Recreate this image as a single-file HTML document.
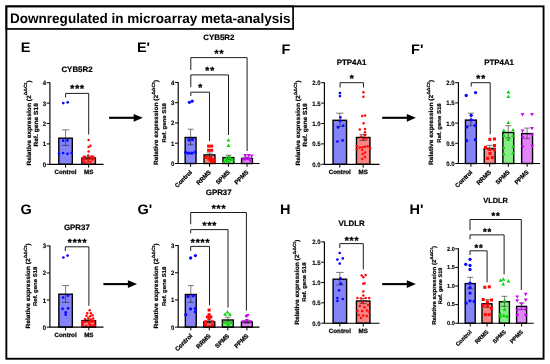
<!DOCTYPE html>
<html><head><meta charset="utf-8"><title>Downregulated in microarray meta-analysis</title>
<style>html,body{margin:0;padding:0;background:#fff}svg{display:block}</style></head>
<body>
<svg width="550" height="364" viewBox="0 0 550 364" font-family="'Liberation Sans', sans-serif" font-weight="bold" text-rendering="geometricPrecision">
<rect width="550" height="364" fill="#fff"/>
<rect x="6.35" y="6.35" width="537.2" height="352.4" fill="none" stroke="#000" stroke-width="1.9"/>
<rect x="6.35" y="6.35" width="286.75" height="22.6" fill="none" stroke="#000" stroke-width="1.7"/>
<text transform="translate(10.0,23.3) scale(0.9885,1)" font-size="13.7" fill="#000">Downregulated in microarray meta-analysis</text>
<rect x="58.80" y="138.20" width="13.50" height="26.10" fill="#8484f8" stroke="#000" stroke-width="1.4"/>
<path d="M65.55 129.80V145.40M61.85 129.80h7.40M61.85 145.40h7.40" stroke="#222" stroke-width="0.6" fill="none"/>
<circle cx="63.30" cy="103.10" r="1.35" fill="#0808ff"/>
<circle cx="67.70" cy="102.30" r="1.35" fill="#0808ff"/>
<circle cx="63.10" cy="140.70" r="1.35" fill="#0808ff"/>
<circle cx="67.50" cy="140.40" r="1.35" fill="#0808ff"/>
<circle cx="59.00" cy="153.80" r="1.35" fill="#0808ff"/>
<circle cx="63.10" cy="153.00" r="1.35" fill="#0808ff"/>
<circle cx="67.50" cy="153.80" r="1.35" fill="#0808ff"/>
<circle cx="71.70" cy="153.00" r="1.35" fill="#0808ff"/>
<rect x="81.90" y="158.00" width="13.50" height="6.30" fill="#f88484" stroke="#000" stroke-width="1.4"/>
<path d="M88.65 156.20V159.40M84.95 156.20h7.40M84.95 159.40h7.40" stroke="#222" stroke-width="0.6" fill="none"/>
<circle cx="88.60" cy="140.10" r="1.25" fill="#ff0808"/>
<circle cx="90.50" cy="145.70" r="1.25" fill="#ff0808"/>
<circle cx="88.60" cy="146.90" r="1.25" fill="#ff0808"/>
<circle cx="88.60" cy="151.40" r="1.25" fill="#ff0808"/>
<circle cx="88.20" cy="155.60" r="1.25" fill="#ff0808"/>
<circle cx="84.80" cy="157.00" r="1.25" fill="#ff0808"/>
<circle cx="91.60" cy="157.40" r="1.25" fill="#ff0808"/>
<circle cx="84.41" cy="162.26" r="1.2" fill="#ff0808"/>
<circle cx="91.71" cy="158.23" r="1.2" fill="#ff0808"/>
<circle cx="88.60" cy="159.56" r="1.2" fill="#ff0808"/>
<circle cx="90.41" cy="161.86" r="1.2" fill="#ff0808"/>
<circle cx="83.94" cy="156.69" r="1.2" fill="#ff0808"/>
<circle cx="92.54" cy="159.44" r="1.2" fill="#ff0808"/>
<circle cx="91.69" cy="156.51" r="1.2" fill="#ff0808"/>
<circle cx="88.02" cy="161.41" r="1.2" fill="#ff0808"/>
<circle cx="85.50" cy="162.93" r="1.2" fill="#ff0808"/>
<circle cx="93.31" cy="156.71" r="1.2" fill="#ff0808"/>
<circle cx="83.15" cy="160.18" r="1.2" fill="#ff0808"/>
<circle cx="93.74" cy="159.09" r="1.2" fill="#ff0808"/>
<circle cx="85.36" cy="159.37" r="1.2" fill="#ff0808"/>
<circle cx="83.19" cy="158.01" r="1.2" fill="#ff0808"/>
<path d="M49.90 82.20V164.30H103.50" stroke="#000" stroke-width="1.15" fill="none"/>
<path d="M46.70 164.30h3.2" stroke="#000" stroke-width="1"/>
<text transform="translate(46.00,166.80) scale(1,1.05)" font-size="6.0" text-anchor="end" fill="#000" stroke="#000" stroke-width="0.12">0</text>
<path d="M46.70 143.90h3.2" stroke="#000" stroke-width="1"/>
<text transform="translate(46.00,146.40) scale(1,1.05)" font-size="6.0" text-anchor="end" fill="#000" stroke="#000" stroke-width="0.12">1</text>
<path d="M46.70 123.50h3.2" stroke="#000" stroke-width="1"/>
<text transform="translate(46.00,126.00) scale(1,1.05)" font-size="6.0" text-anchor="end" fill="#000" stroke="#000" stroke-width="0.12">2</text>
<path d="M46.70 103.10h3.2" stroke="#000" stroke-width="1"/>
<text transform="translate(46.00,105.60) scale(1,1.05)" font-size="6.0" text-anchor="end" fill="#000" stroke="#000" stroke-width="0.12">3</text>
<path d="M46.70 82.70h3.2" stroke="#000" stroke-width="1"/>
<text transform="translate(46.00,85.20) scale(1,1.05)" font-size="6.0" text-anchor="end" fill="#000" stroke="#000" stroke-width="0.12">4</text>
<path d="M65.55 164.30v3.3" stroke="#000" stroke-width="1"/>
<text transform="translate(65.55,173.90) scale(1,1.0)" font-size="6.2" text-anchor="middle" fill="#000" stroke="#000" stroke-width="0.25">Control</text>
<path d="M88.65 164.30v3.3" stroke="#000" stroke-width="1"/>
<text transform="translate(88.65,173.90) scale(1,1.0)" font-size="6.2" text-anchor="middle" fill="#000" stroke="#000" stroke-width="0.25">MS</text>
<text transform="translate(30.60,123.05) rotate(-90) scale(1.092,1)" font-size="6.10" text-anchor="middle" fill="#000" stroke="#000" stroke-width="0.2">Relative expression (2<tspan font-size="4.60" dy="-3.20">ΔΔCt</tspan><tspan dy="3.20">)</tspan></text>
<text transform="translate(38.10,124.90) rotate(-90) scale(1.092,1)" font-size="6.07" text-anchor="middle" fill="#000" stroke="#000" stroke-width="0.2">Ref. gene S18</text>
<text x="77.00" y="72.25" font-size="7.9" text-anchor="middle" fill="#000" stroke="#000" stroke-width="0.2">CYB5R2</text>
<path d="M65.60 97.50V93.40H88.70V134.50" stroke="#111" stroke-width="0.95" fill="none"/>
<text x="77.65" y="92.20" font-size="10.2" text-anchor="middle" fill="#000" stroke="#000" stroke-width="0.35" letter-spacing="0.95">***</text>
<text transform="translate(20.70,52.00) scale(1.06,1)" font-size="13.7" fill="#000">E</text>
<rect x="185.15" y="137.50" width="10.90" height="26.00" fill="#8484f8" stroke="#000" stroke-width="1.4"/>
<path d="M190.60 129.20V144.80M187.60 129.20h6.00M187.60 144.80h6.00" stroke="#222" stroke-width="0.6" fill="none"/>
<circle cx="189.40" cy="102.30" r="1.65" fill="#0808ff"/>
<circle cx="192.20" cy="101.20" r="1.65" fill="#0808ff"/>
<circle cx="189.00" cy="139.90" r="1.65" fill="#0808ff"/>
<circle cx="192.50" cy="139.60" r="1.65" fill="#0808ff"/>
<circle cx="185.60" cy="152.40" r="1.65" fill="#0808ff"/>
<circle cx="188.40" cy="153.20" r="1.65" fill="#0808ff"/>
<circle cx="191.70" cy="153.20" r="1.65" fill="#0808ff"/>
<circle cx="195.10" cy="152.20" r="1.65" fill="#0808ff"/>
<rect x="204.05" y="154.90" width="10.90" height="8.60" fill="#f88484" stroke="#000" stroke-width="1.4"/>
<path d="M209.50 153.00V156.50M206.50 153.00h6.00M206.50 156.50h6.00" stroke="#222" stroke-width="0.6" fill="none"/>
<rect x="207.08" y="144.58" width="3.04" height="3.04" fill="#ff0808"/>
<rect x="210.08" y="144.58" width="3.04" height="3.04" fill="#ff0808"/>
<rect x="207.08" y="148.78" width="3.04" height="3.04" fill="#ff0808"/>
<rect x="210.08" y="148.78" width="3.04" height="3.04" fill="#ff0808"/>
<rect x="211.81" y="160.22" width="3.04" height="3.04" fill="#ff0808"/>
<rect x="204.26" y="155.91" width="3.04" height="3.04" fill="#ff0808"/>
<rect x="210.80" y="159.16" width="3.04" height="3.04" fill="#ff0808"/>
<rect x="209.41" y="157.02" width="3.04" height="3.04" fill="#ff0808"/>
<rect x="208.87" y="158.52" width="3.04" height="3.04" fill="#ff0808"/>
<rect x="208.66" y="156.27" width="3.04" height="3.04" fill="#ff0808"/>
<rect x="207.40" y="157.45" width="3.04" height="3.04" fill="#ff0808"/>
<rect x="209.86" y="160.46" width="3.04" height="3.04" fill="#ff0808"/>
<rect x="211.76" y="158.20" width="3.04" height="3.04" fill="#ff0808"/>
<rect x="222.95" y="157.60" width="10.90" height="5.90" fill="#84ee84" stroke="#000" stroke-width="1.4"/>
<path d="M228.40 155.20V159.60M225.40 155.20h6.00M225.40 159.60h6.00" stroke="#222" stroke-width="0.6" fill="none"/>
<path d="M228.40 138.20L230.30 141.59L226.50 141.59Z" fill="#08d008"/>
<path d="M228.40 143.50L230.30 146.89L226.50 146.89Z" fill="#08d008"/>
<path d="M226.09 158.14L227.99 161.52L224.20 161.52Z" fill="#08d008"/>
<path d="M227.26 158.53L229.15 161.91L225.36 161.91Z" fill="#08d008"/>
<path d="M229.51 155.03L231.40 158.41L227.61 158.41Z" fill="#08d008"/>
<path d="M224.12 160.05L226.01 163.43L222.22 163.43Z" fill="#08d008"/>
<path d="M226.28 156.13L228.18 159.51L224.38 159.51Z" fill="#08d008"/>
<path d="M232.76 157.66L234.66 161.04L230.86 161.04Z" fill="#08d008"/>
<path d="M231.36 157.70L233.26 161.08L229.46 161.08Z" fill="#08d008"/>
<path d="M229.62 155.58L231.52 158.96L227.73 158.96Z" fill="#08d008"/>
<path d="M229.59 160.24L231.48 163.63L227.69 163.63Z" fill="#08d008"/>
<rect x="241.55" y="158.40" width="10.90" height="5.10" fill="#e084f8" stroke="#000" stroke-width="1.4"/>
<path d="M247.00 157.00V159.60M244.00 157.00h6.00M244.00 159.60h6.00" stroke="#222" stroke-width="0.6" fill="none"/>
<path d="M245.20 157.40L247.10 154.01L243.30 154.01Z" fill="#c808f0"/>
<path d="M248.60 157.40L250.50 154.01L246.70 154.01Z" fill="#c808f0"/>
<path d="M251.60 157.90L253.50 154.51L249.70 154.51Z" fill="#c808f0"/>
<path d="M244.78 160.71L246.68 157.32L242.89 157.32Z" fill="#c808f0"/>
<path d="M246.13 160.86L248.02 157.48L244.23 157.48Z" fill="#c808f0"/>
<path d="M243.36 161.60L245.26 158.22L241.46 158.22Z" fill="#c808f0"/>
<path d="M250.51 162.80L252.41 159.42L248.61 159.42Z" fill="#c808f0"/>
<path d="M249.23 161.06L251.12 157.68L247.33 157.68Z" fill="#c808f0"/>
<path d="M178.20 81.90V163.50H259.50" stroke="#000" stroke-width="1.15" fill="none"/>
<path d="M175.00 163.50h3.2" stroke="#000" stroke-width="1"/>
<text transform="translate(174.30,166.00) scale(1,1.05)" font-size="6.0" text-anchor="end" fill="#000" stroke="#000" stroke-width="0.12">0</text>
<path d="M175.00 143.22h3.2" stroke="#000" stroke-width="1"/>
<text transform="translate(174.30,145.72) scale(1,1.05)" font-size="6.0" text-anchor="end" fill="#000" stroke="#000" stroke-width="0.12">1</text>
<path d="M175.00 122.95h3.2" stroke="#000" stroke-width="1"/>
<text transform="translate(174.30,125.45) scale(1,1.05)" font-size="6.0" text-anchor="end" fill="#000" stroke="#000" stroke-width="0.12">2</text>
<path d="M175.00 102.68h3.2" stroke="#000" stroke-width="1"/>
<text transform="translate(174.30,105.18) scale(1,1.05)" font-size="6.0" text-anchor="end" fill="#000" stroke="#000" stroke-width="0.12">3</text>
<path d="M175.00 82.40h3.2" stroke="#000" stroke-width="1"/>
<text transform="translate(174.30,84.90) scale(1,1.05)" font-size="6.0" text-anchor="end" fill="#000" stroke="#000" stroke-width="0.12">4</text>
<path d="M190.60 163.50v3.3" stroke="#000" stroke-width="1"/>
<text transform="translate(192.50,172.70) rotate(-45)" font-size="6.05" text-anchor="end" fill="#000" stroke="#000" stroke-width="0.25">Control</text>
<path d="M209.50 163.50v3.3" stroke="#000" stroke-width="1"/>
<text transform="translate(211.40,172.70) rotate(-45)" font-size="6.05" text-anchor="end" fill="#000" stroke="#000" stroke-width="0.25">RRMS</text>
<path d="M228.40 163.50v3.3" stroke="#000" stroke-width="1"/>
<text transform="translate(230.30,172.70) rotate(-45)" font-size="6.05" text-anchor="end" fill="#000" stroke="#000" stroke-width="0.25">SPMS</text>
<path d="M247.00 163.50v3.3" stroke="#000" stroke-width="1"/>
<text transform="translate(248.90,172.70) rotate(-45)" font-size="6.05" text-anchor="end" fill="#000" stroke="#000" stroke-width="0.25">PPMS</text>
<text transform="translate(158.40,122.55) rotate(-90) scale(1.092,1)" font-size="6.10" text-anchor="middle" fill="#000" stroke="#000" stroke-width="0.2">Relative expression (2<tspan font-size="4.60" dy="-3.20">ΔΔCt</tspan><tspan dy="3.20">)</tspan></text>
<text transform="translate(166.15,122.80) rotate(-90) scale(1.092,1)" font-size="5.50" text-anchor="middle" fill="#000" stroke="#000" stroke-width="0.2">Ref. gene S18</text>
<text x="218.85" y="40.15" font-size="7.9" text-anchor="middle" fill="#000" stroke="#000" stroke-width="0.2">CYB5R2</text>
<path d="M190.80 96.00V92.20H209.50V141.00" stroke="#111" stroke-width="0.95" fill="none"/>
<text x="200.65" y="91.40" font-size="10.2" text-anchor="middle" fill="#000" stroke="#000" stroke-width="0.35" letter-spacing="0.95">*</text>
<path d="M190.80 87.20V74.90H228.50V135.00" stroke="#111" stroke-width="0.95" fill="none"/>
<text x="210.15" y="74.10" font-size="10.2" text-anchor="middle" fill="#000" stroke="#000" stroke-width="0.35" letter-spacing="0.95">**</text>
<path d="M190.80 70.00V57.60H247.10V151.00" stroke="#111" stroke-width="0.95" fill="none"/>
<text x="219.45" y="56.80" font-size="10.2" text-anchor="middle" fill="#000" stroke="#000" stroke-width="0.35" letter-spacing="0.95">**</text>
<text transform="translate(136.90,51.90) scale(1.06,1)" font-size="13.7" fill="#000">E'</text>
<rect x="333.05" y="120.30" width="13.50" height="44.00" fill="#8484f8" stroke="#000" stroke-width="1.4"/>
<path d="M339.80 113.20V126.40M336.10 113.20h7.40M336.10 126.40h7.40" stroke="#222" stroke-width="0.6" fill="none"/>
<circle cx="339.90" cy="93.00" r="1.35" fill="#0808ff"/>
<circle cx="339.90" cy="96.10" r="1.35" fill="#0808ff"/>
<circle cx="340.40" cy="117.40" r="1.35" fill="#0808ff"/>
<circle cx="343.30" cy="125.70" r="1.35" fill="#0808ff"/>
<circle cx="338.10" cy="127.40" r="1.35" fill="#0808ff"/>
<circle cx="337.40" cy="141.50" r="1.35" fill="#0808ff"/>
<circle cx="342.60" cy="140.40" r="1.35" fill="#0808ff"/>
<circle cx="340.40" cy="121.00" r="1.35" fill="#0808ff"/>
<rect x="356.45" y="137.50" width="13.50" height="26.80" fill="#f88484" stroke="#000" stroke-width="1.4"/>
<path d="M363.20 134.40V140.40M359.50 134.40h7.40M359.50 140.40h7.40" stroke="#222" stroke-width="0.6" fill="none"/>
<circle cx="363.40" cy="92.30" r="1.25" fill="#ff0808"/>
<circle cx="363.40" cy="96.80" r="1.25" fill="#ff0808"/>
<circle cx="362.20" cy="115.90" r="1.25" fill="#ff0808"/>
<circle cx="365.00" cy="115.40" r="1.25" fill="#ff0808"/>
<circle cx="363.60" cy="123.20" r="1.25" fill="#ff0808"/>
<circle cx="359.80" cy="129.40" r="1.25" fill="#ff0808"/>
<circle cx="365.00" cy="128.90" r="1.25" fill="#ff0808"/>
<circle cx="365.00" cy="132.20" r="1.25" fill="#ff0808"/>
<circle cx="365.00" cy="135.20" r="1.25" fill="#ff0808"/>
<circle cx="361.00" cy="136.50" r="1.25" fill="#ff0808"/>
<circle cx="363.50" cy="139.00" r="1.25" fill="#ff0808"/>
<circle cx="366.50" cy="138.60" r="1.25" fill="#ff0808"/>
<circle cx="356.80" cy="145.90" r="1.25" fill="#ff0808"/>
<circle cx="356.80" cy="149.20" r="1.25" fill="#ff0808"/>
<circle cx="359.80" cy="147.50" r="1.25" fill="#ff0808"/>
<circle cx="362.60" cy="147.20" r="1.25" fill="#ff0808"/>
<circle cx="365.00" cy="146.70" r="1.25" fill="#ff0808"/>
<circle cx="367.70" cy="146.20" r="1.25" fill="#ff0808"/>
<circle cx="370.20" cy="148.40" r="1.25" fill="#ff0808"/>
<circle cx="362.20" cy="150.00" r="1.25" fill="#ff0808"/>
<circle cx="365.00" cy="152.50" r="1.25" fill="#ff0808"/>
<circle cx="362.60" cy="154.10" r="1.25" fill="#ff0808"/>
<circle cx="365.00" cy="156.90" r="1.25" fill="#ff0808"/>
<circle cx="362.20" cy="159.10" r="1.25" fill="#ff0808"/>
<path d="M324.40 82.20V164.30H379.50" stroke="#000" stroke-width="1.15" fill="none"/>
<path d="M321.20 164.30h3.2" stroke="#000" stroke-width="1"/>
<text transform="translate(320.50,166.80) scale(1,1.05)" font-size="6.0" text-anchor="end" fill="#000" stroke="#000" stroke-width="0.12">0.0</text>
<path d="M321.20 143.90h3.2" stroke="#000" stroke-width="1"/>
<text transform="translate(320.50,146.40) scale(1,1.05)" font-size="6.0" text-anchor="end" fill="#000" stroke="#000" stroke-width="0.12">0.5</text>
<path d="M321.20 123.50h3.2" stroke="#000" stroke-width="1"/>
<text transform="translate(320.50,126.00) scale(1,1.05)" font-size="6.0" text-anchor="end" fill="#000" stroke="#000" stroke-width="0.12">1.0</text>
<path d="M321.20 103.10h3.2" stroke="#000" stroke-width="1"/>
<text transform="translate(320.50,105.60) scale(1,1.05)" font-size="6.0" text-anchor="end" fill="#000" stroke="#000" stroke-width="0.12">1.5</text>
<path d="M321.20 82.70h3.2" stroke="#000" stroke-width="1"/>
<text transform="translate(320.50,85.20) scale(1,1.05)" font-size="6.0" text-anchor="end" fill="#000" stroke="#000" stroke-width="0.12">2.0</text>
<path d="M339.80 164.30v3.3" stroke="#000" stroke-width="1"/>
<text transform="translate(339.80,173.90) scale(1,1.0)" font-size="6.2" text-anchor="middle" fill="#000" stroke="#000" stroke-width="0.25">Control</text>
<path d="M363.20 164.30v3.3" stroke="#000" stroke-width="1"/>
<text transform="translate(363.20,173.90) scale(1,1.0)" font-size="6.2" text-anchor="middle" fill="#000" stroke="#000" stroke-width="0.25">MS</text>
<text transform="translate(299.75,123.05) rotate(-90) scale(1.092,1)" font-size="6.10" text-anchor="middle" fill="#000" stroke="#000" stroke-width="0.2">Relative expression (2<tspan font-size="4.60" dy="-3.20">ΔΔCt</tspan><tspan dy="3.20">)</tspan></text>
<text transform="translate(307.25,124.95) rotate(-90) scale(1.092,1)" font-size="6.07" text-anchor="middle" fill="#000" stroke="#000" stroke-width="0.2">Ref. gene S18</text>
<text x="351.60" y="65.45" font-size="7.9" text-anchor="middle" fill="#000" stroke="#000" stroke-width="0.2">PTP4A1</text>
<path d="M340.10 87.50V82.70H363.50V87.50" stroke="#111" stroke-width="0.95" fill="none"/>
<text x="352.30" y="82.30" font-size="10.2" text-anchor="middle" fill="#000" stroke="#000" stroke-width="0.35" letter-spacing="0.95">*</text>
<text transform="translate(281.40,53.70) scale(1.06,1)" font-size="13.7" fill="#000">F</text>
<rect x="465.45" y="120.10" width="10.90" height="43.40" fill="#8484f8" stroke="#000" stroke-width="1.4"/>
<path d="M470.90 113.20V125.70M467.90 113.20h6.00M467.90 125.70h6.00" stroke="#222" stroke-width="0.6" fill="none"/>
<circle cx="466.20" cy="95.50" r="1.65" fill="#0808ff"/>
<circle cx="475.60" cy="92.60" r="1.65" fill="#0808ff"/>
<circle cx="471.20" cy="115.30" r="1.65" fill="#0808ff"/>
<circle cx="471.20" cy="119.80" r="1.65" fill="#0808ff"/>
<circle cx="466.80" cy="126.90" r="1.65" fill="#0808ff"/>
<circle cx="475.40" cy="125.50" r="1.65" fill="#0808ff"/>
<circle cx="466.60" cy="140.70" r="1.65" fill="#0808ff"/>
<circle cx="475.40" cy="139.70" r="1.65" fill="#0808ff"/>
<rect x="484.25" y="148.40" width="10.90" height="15.10" fill="#f88484" stroke="#000" stroke-width="1.4"/>
<path d="M489.70 145.30V149.50M486.70 145.30h6.00M486.70 149.50h6.00" stroke="#222" stroke-width="0.6" fill="none"/>
<rect x="488.28" y="137.88" width="3.04" height="3.04" fill="#ff0808"/>
<rect x="492.98" y="137.48" width="3.04" height="3.04" fill="#ff0808"/>
<rect x="483.98" y="145.78" width="3.04" height="3.04" fill="#ff0808"/>
<rect x="492.98" y="143.98" width="3.04" height="3.04" fill="#ff0808"/>
<rect x="488.28" y="147.98" width="3.04" height="3.04" fill="#ff0808"/>
<rect x="492.98" y="148.28" width="3.04" height="3.04" fill="#ff0808"/>
<rect x="486.08" y="156.78" width="3.04" height="3.04" fill="#ff0808"/>
<rect x="490.78" y="155.98" width="3.04" height="3.04" fill="#ff0808"/>
<rect x="488.48" y="151.98" width="3.04" height="3.04" fill="#ff0808"/>
<rect x="502.85" y="132.50" width="10.90" height="31.00" fill="#84ee84" stroke="#000" stroke-width="1.4"/>
<path d="M508.30 125.70V138.00M505.30 125.70h6.00M505.30 138.00h6.00" stroke="#222" stroke-width="0.6" fill="none"/>
<path d="M508.40 90.00L510.30 93.39L506.50 93.39Z" fill="#08d008"/>
<path d="M508.40 94.70L510.30 98.08L506.50 98.08Z" fill="#08d008"/>
<path d="M508.40 120.70L510.30 124.08L506.50 124.08Z" fill="#08d008"/>
<path d="M503.80 128.60L505.70 131.99L501.90 131.99Z" fill="#08d008"/>
<path d="M513.10 127.90L515.00 131.29L511.20 131.29Z" fill="#08d008"/>
<path d="M503.90 133.70L505.80 137.09L502.00 137.09Z" fill="#08d008"/>
<path d="M513.00 133.70L514.90 137.09L511.10 137.09Z" fill="#08d008"/>
<path d="M508.40 137.50L510.30 140.89L506.50 140.89Z" fill="#08d008"/>
<path d="M503.70 145.40L505.60 148.79L501.80 148.79Z" fill="#08d008"/>
<path d="M513.20 144.70L515.10 148.09L511.30 148.09Z" fill="#08d008"/>
<path d="M503.70 151.90L505.60 155.29L501.80 155.29Z" fill="#08d008"/>
<path d="M513.20 151.00L515.10 154.39L511.30 154.39Z" fill="#08d008"/>
<rect x="521.65" y="133.60" width="10.90" height="29.90" fill="#e084f8" stroke="#000" stroke-width="1.4"/>
<path d="M527.10 128.10V138.70M524.10 128.10h6.00M524.10 138.70h6.00" stroke="#222" stroke-width="0.6" fill="none"/>
<path d="M522.60 116.50L524.50 113.11L520.70 113.11Z" fill="#c808f0"/>
<path d="M532.00 116.50L533.90 113.11L530.10 113.11Z" fill="#c808f0"/>
<path d="M522.60 132.90L524.50 129.51L520.70 129.51Z" fill="#c808f0"/>
<path d="M532.00 130.30L533.90 126.92L530.10 126.92Z" fill="#c808f0"/>
<path d="M522.80 139.70L524.70 136.31L520.90 136.31Z" fill="#c808f0"/>
<path d="M532.00 136.90L533.90 133.51L530.10 133.51Z" fill="#c808f0"/>
<path d="M522.70 148.80L524.60 145.41L520.80 145.41Z" fill="#c808f0"/>
<path d="M532.20 148.20L534.10 144.81L530.30 144.81Z" fill="#c808f0"/>
<path d="M458.40 82.20V163.50H540.00" stroke="#000" stroke-width="1.15" fill="none"/>
<path d="M455.20 163.50h3.2" stroke="#000" stroke-width="1"/>
<text transform="translate(454.50,166.00) scale(1,1.05)" font-size="6.0" text-anchor="end" fill="#000" stroke="#000" stroke-width="0.12">0.0</text>
<path d="M455.20 143.30h3.2" stroke="#000" stroke-width="1"/>
<text transform="translate(454.50,145.80) scale(1,1.05)" font-size="6.0" text-anchor="end" fill="#000" stroke="#000" stroke-width="0.12">0.5</text>
<path d="M455.20 123.10h3.2" stroke="#000" stroke-width="1"/>
<text transform="translate(454.50,125.60) scale(1,1.05)" font-size="6.0" text-anchor="end" fill="#000" stroke="#000" stroke-width="0.12">1.0</text>
<path d="M455.20 102.90h3.2" stroke="#000" stroke-width="1"/>
<text transform="translate(454.50,105.40) scale(1,1.05)" font-size="6.0" text-anchor="end" fill="#000" stroke="#000" stroke-width="0.12">1.5</text>
<path d="M455.20 82.70h3.2" stroke="#000" stroke-width="1"/>
<text transform="translate(454.50,85.20) scale(1,1.05)" font-size="6.0" text-anchor="end" fill="#000" stroke="#000" stroke-width="0.12">2.0</text>
<path d="M470.90 163.50v3.3" stroke="#000" stroke-width="1"/>
<text transform="translate(472.80,172.70) rotate(-45)" font-size="6.05" text-anchor="end" fill="#000" stroke="#000" stroke-width="0.25">Control</text>
<path d="M489.70 163.50v3.3" stroke="#000" stroke-width="1"/>
<text transform="translate(491.60,172.70) rotate(-45)" font-size="6.05" text-anchor="end" fill="#000" stroke="#000" stroke-width="0.25">RRMS</text>
<path d="M508.30 163.50v3.3" stroke="#000" stroke-width="1"/>
<text transform="translate(510.20,172.70) rotate(-45)" font-size="6.05" text-anchor="end" fill="#000" stroke="#000" stroke-width="0.25">SPMS</text>
<path d="M527.10 163.50v3.3" stroke="#000" stroke-width="1"/>
<text transform="translate(529.00,172.70) rotate(-45)" font-size="6.05" text-anchor="end" fill="#000" stroke="#000" stroke-width="0.25">PPMS</text>
<text transform="translate(433.30,122.55) rotate(-90) scale(1.092,1)" font-size="6.10" text-anchor="middle" fill="#000" stroke="#000" stroke-width="0.2">Relative expression (2<tspan font-size="4.60" dy="-3.20">ΔΔCt</tspan><tspan dy="3.20">)</tspan></text>
<text transform="translate(440.85,123.00) rotate(-90) scale(1.092,1)" font-size="5.50" text-anchor="middle" fill="#000" stroke="#000" stroke-width="0.2">Ref. gene S18</text>
<text x="499.10" y="65.45" font-size="7.9" text-anchor="middle" fill="#000" stroke="#000" stroke-width="0.2">PTP4A1</text>
<path d="M471.20 86.50V82.70H490.20V134.20" stroke="#111" stroke-width="0.95" fill="none"/>
<text x="481.20" y="82.20" font-size="10.2" text-anchor="middle" fill="#000" stroke="#000" stroke-width="0.35" letter-spacing="0.95">**</text>
<text transform="translate(411.10,53.70) scale(1.06,1)" font-size="13.7" fill="#000">F'</text>
<rect x="58.85" y="294.20" width="13.50" height="32.90" fill="#8484f8" stroke="#000" stroke-width="1.4"/>
<path d="M65.60 285.60V302.40M61.90 285.60h7.40M61.90 302.40h7.40" stroke="#222" stroke-width="0.6" fill="none"/>
<circle cx="63.40" cy="257.50" r="1.35" fill="#0808ff"/>
<circle cx="67.60" cy="255.60" r="1.35" fill="#0808ff"/>
<circle cx="63.10" cy="297.50" r="1.35" fill="#0808ff"/>
<circle cx="68.00" cy="295.70" r="1.35" fill="#0808ff"/>
<circle cx="62.60" cy="308.80" r="1.35" fill="#0808ff"/>
<circle cx="68.10" cy="308.30" r="1.35" fill="#0808ff"/>
<circle cx="65.70" cy="312.30" r="1.35" fill="#0808ff"/>
<circle cx="65.70" cy="314.70" r="1.35" fill="#0808ff"/>
<rect x="82.05" y="320.60" width="13.50" height="6.50" fill="#f88484" stroke="#000" stroke-width="1.4"/>
<path d="M88.80 319.40V321.80M85.10 319.40h7.40M85.10 321.80h7.40" stroke="#222" stroke-width="0.6" fill="none"/>
<circle cx="89.70" cy="310.20" r="1.25" fill="#ff0808"/>
<circle cx="87.20" cy="313.20" r="1.25" fill="#ff0808"/>
<circle cx="90.80" cy="313.20" r="1.25" fill="#ff0808"/>
<circle cx="86.50" cy="315.70" r="1.25" fill="#ff0808"/>
<circle cx="90.20" cy="316.20" r="1.25" fill="#ff0808"/>
<circle cx="92.60" cy="315.20" r="1.25" fill="#ff0808"/>
<circle cx="88.30" cy="318.00" r="1.25" fill="#ff0808"/>
<circle cx="85.00" cy="319.00" r="1.25" fill="#ff0808"/>
<circle cx="93.20" cy="318.60" r="1.25" fill="#ff0808"/>
<circle cx="90.80" cy="319.50" r="1.25" fill="#ff0808"/>
<circle cx="90.32" cy="324.95" r="1.25" fill="#ff0808"/>
<circle cx="92.46" cy="326.15" r="1.25" fill="#ff0808"/>
<circle cx="91.77" cy="326.03" r="1.25" fill="#ff0808"/>
<circle cx="82.96" cy="323.29" r="1.25" fill="#ff0808"/>
<circle cx="94.30" cy="324.39" r="1.25" fill="#ff0808"/>
<circle cx="93.77" cy="321.18" r="1.25" fill="#ff0808"/>
<circle cx="88.42" cy="321.98" r="1.25" fill="#ff0808"/>
<circle cx="89.34" cy="323.94" r="1.25" fill="#ff0808"/>
<circle cx="82.76" cy="321.80" r="1.25" fill="#ff0808"/>
<circle cx="86.07" cy="326.00" r="1.25" fill="#ff0808"/>
<circle cx="92.09" cy="321.46" r="1.25" fill="#ff0808"/>
<circle cx="92.48" cy="321.33" r="1.25" fill="#ff0808"/>
<circle cx="90.26" cy="321.26" r="1.25" fill="#ff0808"/>
<circle cx="82.62" cy="325.73" r="1.25" fill="#ff0808"/>
<circle cx="85.20" cy="321.79" r="1.25" fill="#ff0808"/>
<circle cx="94.78" cy="325.73" r="1.25" fill="#ff0808"/>
<path d="M49.90 245.40V327.10H103.50" stroke="#000" stroke-width="1.15" fill="none"/>
<path d="M46.70 327.10h3.2" stroke="#000" stroke-width="1"/>
<text transform="translate(46.00,329.60) scale(1,1.05)" font-size="6.0" text-anchor="end" fill="#000" stroke="#000" stroke-width="0.12">0</text>
<path d="M46.70 300.03h3.2" stroke="#000" stroke-width="1"/>
<text transform="translate(46.00,302.53) scale(1,1.05)" font-size="6.0" text-anchor="end" fill="#000" stroke="#000" stroke-width="0.12">1</text>
<path d="M46.70 272.97h3.2" stroke="#000" stroke-width="1"/>
<text transform="translate(46.00,275.47) scale(1,1.05)" font-size="6.0" text-anchor="end" fill="#000" stroke="#000" stroke-width="0.12">2</text>
<path d="M46.70 245.90h3.2" stroke="#000" stroke-width="1"/>
<text transform="translate(46.00,248.40) scale(1,1.05)" font-size="6.0" text-anchor="end" fill="#000" stroke="#000" stroke-width="0.12">3</text>
<path d="M65.60 327.10v3.3" stroke="#000" stroke-width="1"/>
<text transform="translate(65.60,336.70) scale(1,1.0)" font-size="6.2" text-anchor="middle" fill="#000" stroke="#000" stroke-width="0.25">Control</text>
<path d="M88.80 327.10v3.3" stroke="#000" stroke-width="1"/>
<text transform="translate(88.80,336.70) scale(1,1.0)" font-size="6.2" text-anchor="middle" fill="#000" stroke="#000" stroke-width="0.25">MS</text>
<text transform="translate(29.80,286.10) rotate(-90) scale(1.092,1)" font-size="6.10" text-anchor="middle" fill="#000" stroke="#000" stroke-width="0.2">Relative expression (2<tspan font-size="4.60" dy="-3.20">ΔΔCt</tspan><tspan dy="3.20">)</tspan></text>
<text transform="translate(36.75,286.30) rotate(-90) scale(1.092,1)" font-size="5.50" text-anchor="middle" fill="#000" stroke="#000" stroke-width="0.2">Ref. gene S18</text>
<text x="76.90" y="229.55" font-size="7.9" text-anchor="middle" fill="#000" stroke="#000" stroke-width="0.2">GPR37</text>
<path d="M65.30 251.00V246.80H88.90V305.80" stroke="#111" stroke-width="0.95" fill="none"/>
<text x="77.60" y="246.30" font-size="10.2" text-anchor="middle" fill="#000" stroke="#000" stroke-width="0.35" letter-spacing="0.95">****</text>
<text transform="translate(20.40,213.90) scale(1.06,1)" font-size="13.7" fill="#000">G</text>
<rect x="185.35" y="294.50" width="10.90" height="32.60" fill="#8484f8" stroke="#000" stroke-width="1.4"/>
<path d="M190.80 285.60V302.40M187.80 285.60h6.00M187.80 302.40h6.00" stroke="#222" stroke-width="0.6" fill="none"/>
<circle cx="190.60" cy="258.00" r="1.65" fill="#0808ff"/>
<circle cx="195.40" cy="255.60" r="1.65" fill="#0808ff"/>
<circle cx="188.00" cy="296.50" r="1.65" fill="#0808ff"/>
<circle cx="193.10" cy="295.80" r="1.65" fill="#0808ff"/>
<circle cx="190.50" cy="308.90" r="1.65" fill="#0808ff"/>
<circle cx="195.30" cy="308.60" r="1.65" fill="#0808ff"/>
<circle cx="195.30" cy="311.80" r="1.65" fill="#0808ff"/>
<circle cx="185.80" cy="314.70" r="1.65" fill="#0808ff"/>
<rect x="203.85" y="321.80" width="10.90" height="5.30" fill="#f88484" stroke="#000" stroke-width="1.4"/>
<path d="M209.30 320.20V323.20M206.30 320.20h6.00M206.30 323.20h6.00" stroke="#222" stroke-width="0.6" fill="none"/>
<rect x="207.58" y="308.58" width="3.04" height="3.04" fill="#ff0808"/>
<rect x="205.98" y="315.38" width="3.04" height="3.04" fill="#ff0808"/>
<rect x="209.28" y="315.38" width="3.04" height="3.04" fill="#ff0808"/>
<rect x="207.58" y="313.18" width="3.04" height="3.04" fill="#ff0808"/>
<rect x="207.58" y="317.08" width="3.04" height="3.04" fill="#ff0808"/>
<rect x="203.98" y="320.28" width="3.04" height="3.04" fill="#ff0808"/>
<rect x="211.08" y="320.28" width="3.04" height="3.04" fill="#ff0808"/>
<rect x="203.98" y="323.78" width="3.04" height="3.04" fill="#ff0808"/>
<rect x="207.58" y="324.98" width="3.04" height="3.04" fill="#ff0808"/>
<rect x="211.08" y="323.78" width="3.04" height="3.04" fill="#ff0808"/>
<rect x="222.35" y="320.00" width="10.90" height="7.10" fill="#84ee84" stroke="#000" stroke-width="1.4"/>
<path d="M227.80 317.20V322.00M224.80 317.20h6.00M224.80 322.00h6.00" stroke="#222" stroke-width="0.6" fill="none"/>
<path d="M227.50 310.00L229.40 313.38L225.60 313.38Z" fill="#08d008"/>
<path d="M225.10 312.30L227.00 315.69L223.20 315.69Z" fill="#08d008"/>
<path d="M229.90 312.30L231.80 315.69L228.00 315.69Z" fill="#08d008"/>
<path d="M224.00 320.60L225.90 323.99L222.10 323.99Z" fill="#08d008"/>
<path d="M227.50 321.80L229.40 325.19L225.60 325.19Z" fill="#08d008"/>
<path d="M231.00 320.60L232.90 323.99L229.10 323.99Z" fill="#08d008"/>
<path d="M229.00 323.60L230.90 326.99L227.10 326.99Z" fill="#08d008"/>
<rect x="241.45" y="322.00" width="10.90" height="5.10" fill="#e084f8" stroke="#000" stroke-width="1.4"/>
<path d="M246.90 320.40V323.20M243.90 320.40h6.00M243.90 323.20h6.00" stroke="#222" stroke-width="0.6" fill="none"/>
<path d="M246.30 318.30L248.20 314.91L244.40 314.91Z" fill="#c808f0"/>
<path d="M247.80 317.30L249.70 313.91L245.90 313.91Z" fill="#c808f0"/>
<path d="M243.30 323.70L245.20 320.31L241.40 320.31Z" fill="#c808f0"/>
<path d="M246.90 322.50L248.80 319.12L245.00 319.12Z" fill="#c808f0"/>
<path d="M250.40 323.70L252.30 320.31L248.50 320.31Z" fill="#c808f0"/>
<path d="M178.20 245.10V327.10H259.50" stroke="#000" stroke-width="1.15" fill="none"/>
<path d="M175.00 327.10h3.2" stroke="#000" stroke-width="1"/>
<text transform="translate(174.30,329.60) scale(1,1.05)" font-size="6.0" text-anchor="end" fill="#000" stroke="#000" stroke-width="0.12">0</text>
<path d="M175.00 299.93h3.2" stroke="#000" stroke-width="1"/>
<text transform="translate(174.30,302.43) scale(1,1.05)" font-size="6.0" text-anchor="end" fill="#000" stroke="#000" stroke-width="0.12">1</text>
<path d="M175.00 272.77h3.2" stroke="#000" stroke-width="1"/>
<text transform="translate(174.30,275.27) scale(1,1.05)" font-size="6.0" text-anchor="end" fill="#000" stroke="#000" stroke-width="0.12">2</text>
<path d="M175.00 245.60h3.2" stroke="#000" stroke-width="1"/>
<text transform="translate(174.30,248.10) scale(1,1.05)" font-size="6.0" text-anchor="end" fill="#000" stroke="#000" stroke-width="0.12">3</text>
<path d="M190.80 327.10v3.3" stroke="#000" stroke-width="1"/>
<text transform="translate(192.70,336.30) rotate(-45)" font-size="6.05" text-anchor="end" fill="#000" stroke="#000" stroke-width="0.25">Control</text>
<path d="M209.30 327.10v3.3" stroke="#000" stroke-width="1"/>
<text transform="translate(211.20,336.30) rotate(-45)" font-size="6.05" text-anchor="end" fill="#000" stroke="#000" stroke-width="0.25">RRMS</text>
<path d="M227.80 327.10v3.3" stroke="#000" stroke-width="1"/>
<text transform="translate(229.70,336.30) rotate(-45)" font-size="6.05" text-anchor="end" fill="#000" stroke="#000" stroke-width="0.25">SPMS</text>
<path d="M246.90 327.10v3.3" stroke="#000" stroke-width="1"/>
<text transform="translate(248.80,336.30) rotate(-45)" font-size="6.05" text-anchor="end" fill="#000" stroke="#000" stroke-width="0.25">PPMS</text>
<text transform="translate(158.40,286.10) rotate(-90) scale(1.092,1)" font-size="6.10" text-anchor="middle" fill="#000" stroke="#000" stroke-width="0.2">Relative expression (2<tspan font-size="4.60" dy="-3.20">ΔΔCt</tspan><tspan dy="3.20">)</tspan></text>
<text transform="translate(166.15,286.30) rotate(-90) scale(1.092,1)" font-size="5.50" text-anchor="middle" fill="#000" stroke="#000" stroke-width="0.2">Ref. gene S18</text>
<text x="218.70" y="194.65" font-size="7.9" text-anchor="middle" fill="#000" stroke="#000" stroke-width="0.2">GPR37</text>
<path d="M190.70 251.00V246.40H209.50V305.20" stroke="#111" stroke-width="0.95" fill="none"/>
<text x="200.60" y="245.60" font-size="10.2" text-anchor="middle" fill="#000" stroke="#000" stroke-width="0.35" letter-spacing="0.95">****</text>
<path d="M190.70 233.30V229.60H228.00V307.60" stroke="#111" stroke-width="0.95" fill="none"/>
<text x="209.85" y="228.80" font-size="10.2" text-anchor="middle" fill="#000" stroke="#000" stroke-width="0.35" letter-spacing="0.95">***</text>
<path d="M190.70 224.20V212.50H246.40V310.70" stroke="#111" stroke-width="0.95" fill="none"/>
<text x="219.05" y="211.70" font-size="10.2" text-anchor="middle" fill="#000" stroke="#000" stroke-width="0.35" letter-spacing="0.95">***</text>
<text transform="translate(137.50,213.90) scale(1.06,1)" font-size="13.7" fill="#000">G'</text>
<rect x="333.10" y="279.20" width="13.50" height="44.00" fill="#8484f8" stroke="#000" stroke-width="1.4"/>
<path d="M339.85 272.40V284.90M336.15 272.40h7.40M336.15 284.90h7.40" stroke="#222" stroke-width="0.6" fill="none"/>
<circle cx="339.70" cy="253.00" r="1.35" fill="#0808ff"/>
<circle cx="337.40" cy="259.60" r="1.35" fill="#0808ff"/>
<circle cx="342.80" cy="258.40" r="1.35" fill="#0808ff"/>
<circle cx="339.70" cy="263.60" r="1.35" fill="#0808ff"/>
<circle cx="340.40" cy="278.30" r="1.35" fill="#0808ff"/>
<circle cx="340.90" cy="283.70" r="1.35" fill="#0808ff"/>
<circle cx="339.00" cy="290.30" r="1.35" fill="#0808ff"/>
<circle cx="337.40" cy="298.00" r="1.35" fill="#0808ff"/>
<circle cx="342.80" cy="299.00" r="1.35" fill="#0808ff"/>
<circle cx="337.40" cy="301.00" r="1.35" fill="#0808ff"/>
<rect x="356.45" y="301.00" width="13.50" height="22.20" fill="#f88484" stroke="#000" stroke-width="1.4"/>
<path d="M363.20 298.40V303.60M359.50 298.40h7.40M359.50 303.60h7.40" stroke="#222" stroke-width="0.6" fill="none"/>
<circle cx="361.70" cy="275.40" r="1.25" fill="#ff0808"/>
<circle cx="365.70" cy="275.00" r="1.25" fill="#ff0808"/>
<circle cx="363.30" cy="277.30" r="1.25" fill="#ff0808"/>
<circle cx="363.30" cy="283.70" r="1.25" fill="#ff0808"/>
<circle cx="364.50" cy="283.20" r="1.25" fill="#ff0808"/>
<circle cx="363.30" cy="291.50" r="1.25" fill="#ff0808"/>
<circle cx="363.30" cy="295.50" r="1.25" fill="#ff0808"/>
<circle cx="357.40" cy="297.90" r="1.25" fill="#ff0808"/>
<circle cx="361.00" cy="298.60" r="1.25" fill="#ff0808"/>
<circle cx="365.70" cy="297.90" r="1.25" fill="#ff0808"/>
<circle cx="369.20" cy="297.90" r="1.25" fill="#ff0808"/>
<circle cx="362.20" cy="302.60" r="1.25" fill="#ff0808"/>
<circle cx="359.80" cy="306.10" r="1.25" fill="#ff0808"/>
<circle cx="364.50" cy="307.30" r="1.25" fill="#ff0808"/>
<circle cx="368.10" cy="305.00" r="1.25" fill="#ff0808"/>
<circle cx="357.40" cy="310.90" r="1.25" fill="#ff0808"/>
<circle cx="362.20" cy="310.90" r="1.25" fill="#ff0808"/>
<circle cx="366.90" cy="310.40" r="1.25" fill="#ff0808"/>
<circle cx="369.20" cy="312.00" r="1.25" fill="#ff0808"/>
<circle cx="358.60" cy="315.10" r="1.25" fill="#ff0808"/>
<circle cx="363.30" cy="315.60" r="1.25" fill="#ff0808"/>
<circle cx="366.90" cy="316.10" r="1.25" fill="#ff0808"/>
<circle cx="361.00" cy="318.00" r="1.25" fill="#ff0808"/>
<path d="M324.40 241.40V323.20H379.50" stroke="#000" stroke-width="1.15" fill="none"/>
<path d="M321.20 323.20h3.2" stroke="#000" stroke-width="1"/>
<text transform="translate(320.50,325.70) scale(1,1.05)" font-size="6.0" text-anchor="end" fill="#000" stroke="#000" stroke-width="0.12">0.0</text>
<path d="M321.20 302.88h3.2" stroke="#000" stroke-width="1"/>
<text transform="translate(320.50,305.38) scale(1,1.05)" font-size="6.0" text-anchor="end" fill="#000" stroke="#000" stroke-width="0.12">0.5</text>
<path d="M321.20 282.55h3.2" stroke="#000" stroke-width="1"/>
<text transform="translate(320.50,285.05) scale(1,1.05)" font-size="6.0" text-anchor="end" fill="#000" stroke="#000" stroke-width="0.12">1.0</text>
<path d="M321.20 262.23h3.2" stroke="#000" stroke-width="1"/>
<text transform="translate(320.50,264.73) scale(1,1.05)" font-size="6.0" text-anchor="end" fill="#000" stroke="#000" stroke-width="0.12">1.5</text>
<path d="M321.20 241.90h3.2" stroke="#000" stroke-width="1"/>
<text transform="translate(320.50,244.40) scale(1,1.05)" font-size="6.0" text-anchor="end" fill="#000" stroke="#000" stroke-width="0.12">2.0</text>
<path d="M339.85 323.20v3.3" stroke="#000" stroke-width="1"/>
<text transform="translate(339.85,333.10) scale(1,1.0)" font-size="6.2" text-anchor="middle" fill="#000" stroke="#000" stroke-width="0.25">Control</text>
<path d="M363.20 323.20v3.3" stroke="#000" stroke-width="1"/>
<text transform="translate(363.20,333.10) scale(1,1.0)" font-size="6.2" text-anchor="middle" fill="#000" stroke="#000" stroke-width="0.25">MS</text>
<text transform="translate(299.05,282.25) rotate(-90) scale(1.092,1)" font-size="6.10" text-anchor="middle" fill="#000" stroke="#000" stroke-width="0.2">Relative expression (2<tspan font-size="4.60" dy="-3.20">ΔΔCt</tspan><tspan dy="3.20">)</tspan></text>
<text transform="translate(305.95,282.15) rotate(-90) scale(1.092,1)" font-size="5.50" text-anchor="middle" fill="#000" stroke="#000" stroke-width="0.2">Ref. gene S18</text>
<text x="351.60" y="226.25" font-size="7.9" text-anchor="middle" fill="#000" stroke="#000" stroke-width="0.2">VLDLR</text>
<path d="M339.80 248.00V243.60H363.30V269.50" stroke="#111" stroke-width="0.95" fill="none"/>
<text x="352.05" y="243.70" font-size="10.2" text-anchor="middle" fill="#000" stroke="#000" stroke-width="0.35" letter-spacing="0.95">***</text>
<text transform="translate(280.10,213.70) scale(1.06,1)" font-size="13.7" fill="#000">H</text>
<rect x="465.20" y="283.60" width="10.00" height="39.60" fill="#8484f8" stroke="#000" stroke-width="1.4"/>
<path d="M470.20 277.30V288.80M467.20 277.30h6.00M467.20 288.80h6.00" stroke="#222" stroke-width="0.6" fill="none"/>
<circle cx="470.00" cy="259.30" r="1.65" fill="#0808ff"/>
<circle cx="465.70" cy="264.30" r="1.65" fill="#0808ff"/>
<circle cx="470.00" cy="265.40" r="1.65" fill="#0808ff"/>
<circle cx="470.00" cy="269.50" r="1.65" fill="#0808ff"/>
<circle cx="470.00" cy="283.20" r="1.65" fill="#0808ff"/>
<circle cx="470.00" cy="287.60" r="1.65" fill="#0808ff"/>
<circle cx="470.00" cy="293.10" r="1.65" fill="#0808ff"/>
<circle cx="466.20" cy="303.10" r="1.65" fill="#0808ff"/>
<circle cx="470.00" cy="300.80" r="1.65" fill="#0808ff"/>
<circle cx="474.20" cy="301.50" r="1.65" fill="#0808ff"/>
<rect x="482.00" y="303.80" width="10.00" height="19.40" fill="#f88484" stroke="#000" stroke-width="1.4"/>
<path d="M487.00 299.60V307.40M484.00 299.60h6.00M484.00 307.40h6.00" stroke="#222" stroke-width="0.6" fill="none"/>
<rect x="483.28" y="285.78" width="3.04" height="3.04" fill="#ff0808"/>
<rect x="487.78" y="285.28" width="3.04" height="3.04" fill="#ff0808"/>
<rect x="481.58" y="297.98" width="3.04" height="3.04" fill="#ff0808"/>
<rect x="489.98" y="298.48" width="3.04" height="3.04" fill="#ff0808"/>
<rect x="485.88" y="300.48" width="3.04" height="3.04" fill="#ff0808"/>
<rect x="481.58" y="304.18" width="3.04" height="3.04" fill="#ff0808"/>
<rect x="485.88" y="304.18" width="3.04" height="3.04" fill="#ff0808"/>
<rect x="489.98" y="306.98" width="3.04" height="3.04" fill="#ff0808"/>
<rect x="483.88" y="313.08" width="3.04" height="3.04" fill="#ff0808"/>
<rect x="487.68" y="313.08" width="3.04" height="3.04" fill="#ff0808"/>
<rect x="499.40" y="301.70" width="10.00" height="21.50" fill="#84ee84" stroke="#000" stroke-width="1.4"/>
<path d="M504.40 296.30V306.40M501.40 296.30h6.00M501.40 306.40h6.00" stroke="#222" stroke-width="0.6" fill="none"/>
<path d="M500.60 278.30L502.50 281.69L498.70 281.69Z" fill="#08d008"/>
<path d="M503.40 277.30L505.30 280.69L501.50 280.69Z" fill="#08d008"/>
<path d="M508.50 279.10L510.40 282.49L506.60 282.49Z" fill="#08d008"/>
<path d="M503.20 282.00L505.10 285.38L501.30 285.38Z" fill="#08d008"/>
<path d="M504.60 298.60L506.50 301.99L502.70 301.99Z" fill="#08d008"/>
<path d="M504.60 307.30L506.50 310.69L502.70 310.69Z" fill="#08d008"/>
<path d="M500.30 314.30L502.20 317.69L498.40 317.69Z" fill="#08d008"/>
<path d="M503.80 313.50L505.70 316.88L501.90 316.88Z" fill="#08d008"/>
<path d="M506.90 314.30L508.80 317.69L505.00 317.69Z" fill="#08d008"/>
<path d="M500.30 311.90L502.20 315.29L498.40 315.29Z" fill="#08d008"/>
<rect x="516.60" y="306.40" width="10.00" height="16.80" fill="#e084f8" stroke="#000" stroke-width="1.4"/>
<path d="M521.60 303.00V309.60M518.60 303.00h6.00M518.60 309.60h6.00" stroke="#222" stroke-width="0.6" fill="none"/>
<path d="M517.20 298.80L519.10 295.41L515.30 295.41Z" fill="#c808f0"/>
<path d="M525.70 296.20L527.60 292.81L523.80 292.81Z" fill="#c808f0"/>
<path d="M517.20 302.70L519.10 299.31L515.30 299.31Z" fill="#c808f0"/>
<path d="M525.70 301.90L527.60 298.51L523.80 298.51Z" fill="#c808f0"/>
<path d="M517.20 312.20L519.10 308.81L515.30 308.81Z" fill="#c808f0"/>
<path d="M525.70 311.10L527.60 307.71L523.80 307.71Z" fill="#c808f0"/>
<path d="M517.20 317.30L519.10 313.91L515.30 313.91Z" fill="#c808f0"/>
<path d="M525.70 317.30L527.60 313.91L523.80 313.91Z" fill="#c808f0"/>
<path d="M521.50 305.90L523.40 302.51L519.60 302.51Z" fill="#c808f0"/>
<path d="M458.40 248.30V323.20H533.70" stroke="#000" stroke-width="1.15" fill="none"/>
<path d="M455.20 323.20h3.2" stroke="#000" stroke-width="1"/>
<text transform="translate(454.80,324.92) scale(1,1.05)" font-size="5.58" text-anchor="end" fill="#000" stroke="#000" stroke-width="0.12">0.0</text>
<path d="M455.20 304.60h3.2" stroke="#000" stroke-width="1"/>
<text transform="translate(454.80,306.32) scale(1,1.05)" font-size="5.58" text-anchor="end" fill="#000" stroke="#000" stroke-width="0.12">0.5</text>
<path d="M455.20 286.00h3.2" stroke="#000" stroke-width="1"/>
<text transform="translate(454.80,287.72) scale(1,1.05)" font-size="5.58" text-anchor="end" fill="#000" stroke="#000" stroke-width="0.12">1.0</text>
<path d="M455.20 267.40h3.2" stroke="#000" stroke-width="1"/>
<text transform="translate(454.80,269.12) scale(1,1.05)" font-size="5.58" text-anchor="end" fill="#000" stroke="#000" stroke-width="0.12">1.5</text>
<path d="M455.20 248.80h3.2" stroke="#000" stroke-width="1"/>
<text transform="translate(454.80,250.53) scale(1,1.05)" font-size="5.58" text-anchor="end" fill="#000" stroke="#000" stroke-width="0.12">2.0</text>
<path d="M470.20 323.20v3.3" stroke="#000" stroke-width="1"/>
<text transform="translate(472.10,332.40) rotate(-45)" font-size="5.63" text-anchor="end" fill="#000" stroke="#000" stroke-width="0.25">Control</text>
<path d="M487.00 323.20v3.3" stroke="#000" stroke-width="1"/>
<text transform="translate(488.90,332.40) rotate(-45)" font-size="5.63" text-anchor="end" fill="#000" stroke="#000" stroke-width="0.25">RRMS</text>
<path d="M504.40 323.20v3.3" stroke="#000" stroke-width="1"/>
<text transform="translate(506.30,332.40) rotate(-45)" font-size="5.63" text-anchor="end" fill="#000" stroke="#000" stroke-width="0.25">SPMS</text>
<path d="M521.60 323.20v3.3" stroke="#000" stroke-width="1"/>
<text transform="translate(523.50,332.40) rotate(-45)" font-size="5.63" text-anchor="end" fill="#000" stroke="#000" stroke-width="0.25">PPMS</text>
<text transform="translate(435.75,285.40) rotate(-90) scale(1.092,1)" font-size="5.67" text-anchor="middle" fill="#000" stroke="#000" stroke-width="0.2">Relative expression (2<tspan font-size="4.28" dy="-2.98">ΔΔCt</tspan><tspan dy="2.98">)</tspan></text>
<text transform="translate(442.45,285.85) rotate(-90) scale(1.092,1)" font-size="5.12" text-anchor="middle" fill="#000" stroke="#000" stroke-width="0.2">Ref. gene S18</text>
<text x="495.60" y="203.35" font-size="7.35" text-anchor="middle" fill="#000" stroke="#000" stroke-width="0.2">VLDLR</text>
<path d="M470.00 255.00V250.80H487.10V282.30" stroke="#111" stroke-width="0.95" fill="none"/>
<text x="479.01" y="250.75" font-size="9.49" text-anchor="middle" fill="#000" stroke="#000" stroke-width="0.35" letter-spacing="0.88">**</text>
<path d="M470.00 239.20V234.90H504.10V274.40" stroke="#111" stroke-width="0.95" fill="none"/>
<text x="487.51" y="234.85" font-size="9.49" text-anchor="middle" fill="#000" stroke="#000" stroke-width="0.35" letter-spacing="0.88">**</text>
<path d="M470.00 230.20V219.50H521.30V290.00" stroke="#111" stroke-width="0.95" fill="none"/>
<text x="496.11" y="219.45" font-size="9.49" text-anchor="middle" fill="#000" stroke="#000" stroke-width="0.35" letter-spacing="0.88">**</text>
<text transform="translate(409.40,213.70) scale(1.06,1)" font-size="13.7" fill="#000">H'</text>
<path d="M109.1 117.8H137.8" stroke="#000" stroke-width="2.1"/>
<path d="M142.8 117.8L133.70000000000002 113.89999999999999L133.70000000000002 121.7Z" fill="#000"/>
<path d="M382.2 117.8H410.9" stroke="#000" stroke-width="2.1"/>
<path d="M415.9 117.8L406.79999999999995 113.89999999999999L406.79999999999995 121.7Z" fill="#000"/>
<path d="M103.4 284.1H132" stroke="#000" stroke-width="2.1"/>
<path d="M137 284.1L127.9 280.20000000000005L127.9 288.0Z" fill="#000"/>
<path d="M382.2 284.1H410.9" stroke="#000" stroke-width="2.1"/>
<path d="M415.9 284.1L406.79999999999995 280.20000000000005L406.79999999999995 288.0Z" fill="#000"/>
</svg>
</body></html>
